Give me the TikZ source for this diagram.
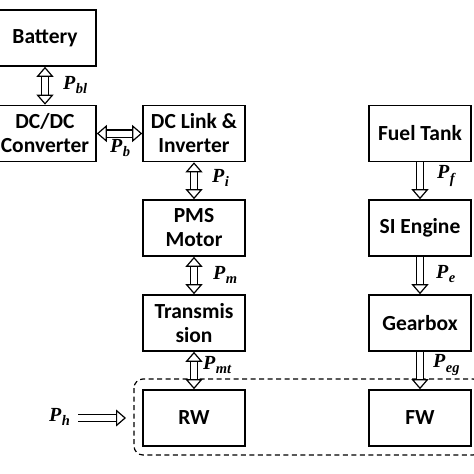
\documentclass[tikz,border=0pt]{standalone}
\usepackage{fontspec}
\setmainfont{Carlito}
\newfontfamily\labfont{Liberation Serif}
\newcommand\plab[1]{{\labfont\bfseries\itshape\fontsize{20}{22}\selectfont P\kern0.5pt\raisebox{-4.5pt}{\fontsize{14.5}{15}\selectfont #1}}}
\usetikzlibrary{arrows.meta,calc}
\begin{document}
\begin{tikzpicture}[x=1pt,y=-1pt,
  box/.style={draw, line width=1.6pt, minimum width=102pt, minimum height=56pt, align=center, inner sep=0pt,
    font=\fontsize{21.5}{24}\selectfont\bfseries},
  harr/.style={line width=1.2pt, double distance=6pt, -{Triangle[open,length=10pt,width=17pt]}},
  harrb/.style={line width=1.2pt, double distance=6pt, {Triangle[open,length=10pt,width=17pt]}-{Triangle[open,length=10pt,width=17pt]}},
  lab/.style={anchor=west, inner sep=0pt}]
\useasboundingbox (0,0) rectangle (474,474);
\node[box] (bat) at (45,38) {Battery};
\node[box] (dcdc) at (45,133.5) {DC/DC\\Converter};
\node[box] (dcl) at (194,133.5) {DC Link \&\\Inverter};
\node[box] (pms) at (194,228) {PMS\\Motor};
\node[box] (tr) at (194,323) {Transmis\\sion};
\node[box] (rw) at (194,418) {RW};
\node[box] (ft) at (420,133.5) {Fuel Tank};
\node[box] (si) at (420,228) {SI Engine};
\node[box] (gb) at (420,323) {Gearbox};
\node[box] (fw) at (420,418) {FW};
\draw[line width=1.2pt, dash pattern=on 5pt off 3.5pt, rounded corners=9pt] (134,379) rectangle (482,455);
\draw[harrb] (bat.south) -- (dcdc.north);
\draw[harrb] (dcdc.east) -- (dcl.west);
\draw[harrb] (dcl.south) -- (pms.north);
\draw[harrb] (pms.south) -- (tr.north);
\draw[harrb] (tr.south) -- (rw.north);
\draw[harr] (ft.south) -- (si.north);
\draw[harr] (si.south) -- (gb.north);
\draw[harr] (gb.south) -- (fw.north);
\coordinate (phs) at (78,418);
\coordinate (phe) at (126,418);
\draw[harr] (phs) -- (phe);
\node[lab] (lbl) at (63,85) {\plab{bl}};
\node[lab] (lb) at (110,148) {\plab{b}};
\node[lab] (li) at (212,178) {\plab{i}};
\node[lab] (lm) at (213,275) {\plab{m}};
\node[lab] (lmt) at (203,365) {\plab{mt}};
\node[lab] (lf) at (437,176) {\plab{f}};
\node[lab] (le) at (436,274) {\plab{e}};
\node[lab] (leg) at (433,365) {\plab{eg}};
\node[lab] (lh) at (49,417) {\plab{h}};
\end{tikzpicture}
\end{document}
